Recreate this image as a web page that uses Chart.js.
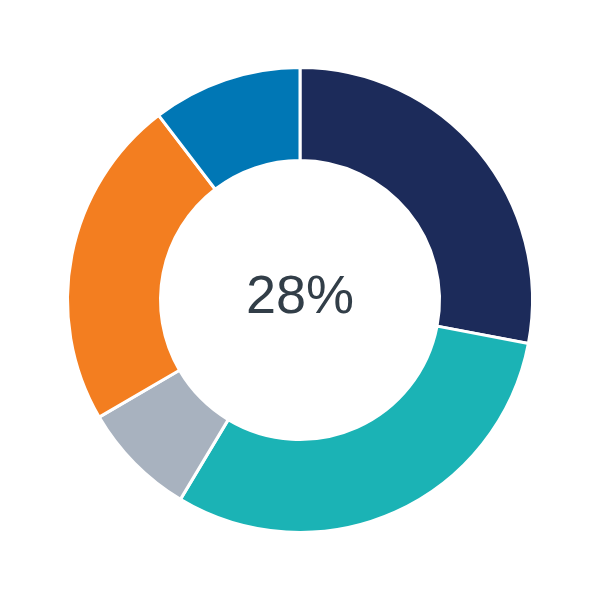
<!DOCTYPE html>
<html>
<head>
<meta charset="utf-8">
<script src="https://cdn.jsdelivr.net/npm/chart.js@4/dist/chart.umd.min.js"></script>
<style>
  html, body { margin: 0; padding: 0; background: #fff; }
  .graphContainer { width: 600px; height: 600px; }
</style>
</head>
<body>
<div class="graphContainer"><canvas id="myChart"></canvas></div>
<script>
const labels = ['Segment A', 'Segment B', 'Segment C', 'Segment D', 'Segment E'];
const values = [28, 30.6, 8, 23, 10.4];
const colors = ['#1c2b5a', '#1bb3b5', '#a8b2bf', '#f37e20', '#0077b5'];
const centerLabel = '28%';

// draws the big percentage in the hole
const centerText = {
  id: 'centerText',
  afterDraw(chart) {
    const { ctx } = chart;
    const meta = chart.getDatasetMeta(0);
    if (!meta.data.length) return;
    const { x, y } = meta.data[0];
    ctx.save();
    ctx.font = '54px "Liberation Sans", Arial, sans-serif';
    ctx.fillStyle = '#323e48';
    ctx.textAlign = 'center';
    ctx.textBaseline = 'middle';
    ctx.fillText(centerLabel, x, y - 2);
    ctx.restore();
  },
};

const myChartRef = document.getElementById('myChart').getContext('2d');
new Chart(myChartRef, {
  type: 'doughnut',
  data: {
    labels,
    datasets: [{
      data: values,
      backgroundColor: colors,
      borderColor: '#ffffff',
      borderWidth: 3,
    }],
  },
  options: {
    animation: false,
    responsive: true,
    maintainAspectRatio: false,
    cutout: '60%',
    layout: { padding: 66 },
    plugins: {
      legend: { display: false },
      tooltip: { enabled: false },
    },
  },
  plugins: [centerText],
});
</script>
</body>
</html>
